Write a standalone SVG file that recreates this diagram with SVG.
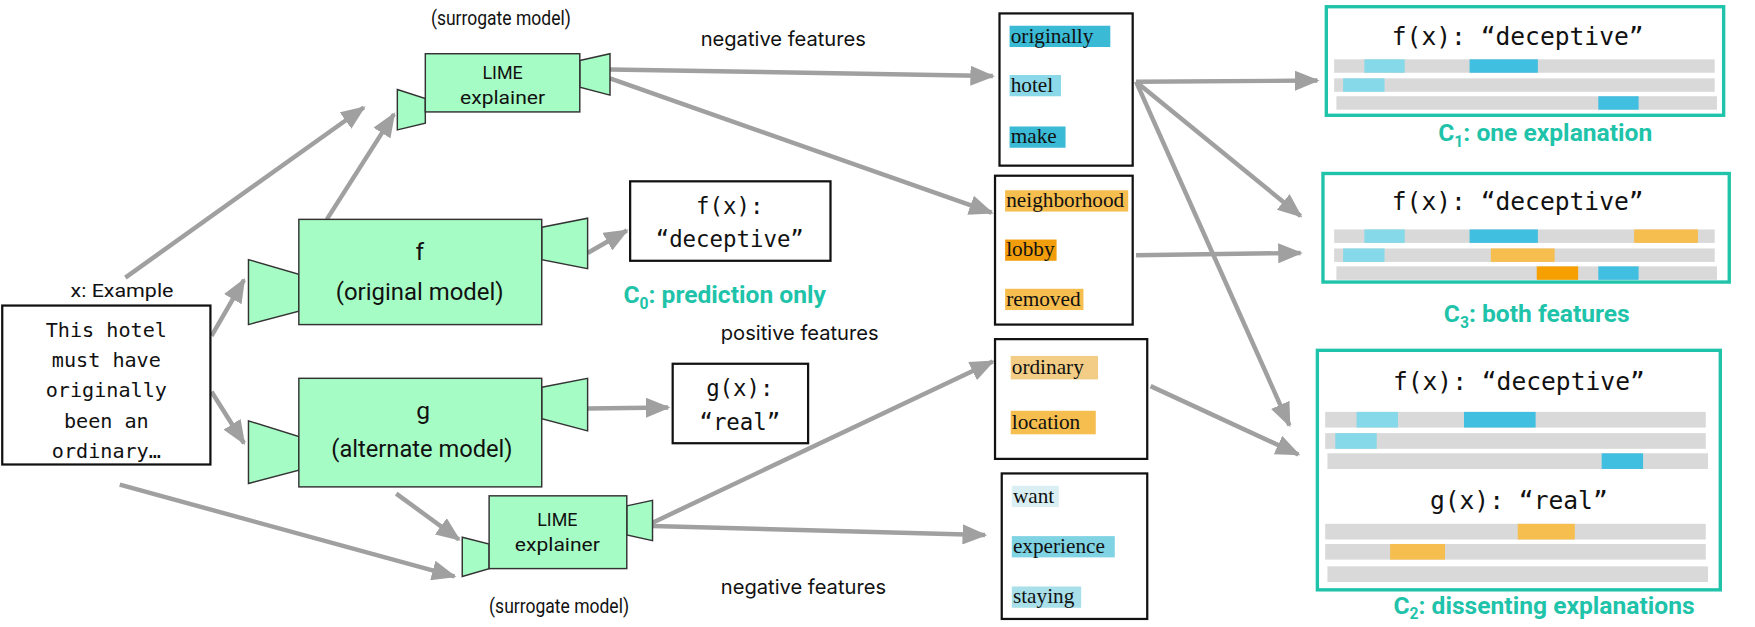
<svg xmlns="http://www.w3.org/2000/svg" width="1755" height="627" viewBox="0 0 1755 627">
<style>
.box{fill:#fff;stroke:#111;stroke-width:2}
.m{fill:#a6fcc5;stroke:#333;stroke-width:1.3}
.lab{font-family:Roboto,"Liberation Sans",sans-serif;fill:#111}
.mono{font-family:"DejaVu Sans Mono","Liberation Mono",monospace;fill:#111}
.ser{font-family:"Liberation Serif",serif;font-size:19px;fill:#111}
.teal{font-family:Roboto,"Liberation Sans",sans-serif;font-weight:bold;fill:#1fc3aa;font-size:22px}
.sub{font-size:14px}
.cbox{fill:#fff;stroke:#1fc3aa;stroke-width:3}
.bar{fill:#d9d9d9}
.lb{fill:#85d9e8}.db{fill:#40bfe0}.or{fill:#f6bd4f}.dor{fill:#f5a000}
.feat{font-family:Inter,"Liberation Sans",sans-serif;font-size:18px;fill:#111}
.c line{stroke:#a0a0a0;stroke-width:4;marker-end:url(#ah)}
</style>
<defs>
<marker id="ah" markerUnits="userSpaceOnUse" markerWidth="22" markerHeight="18" refX="20" refY="9" orient="auto"><path d="M0,0 L22,9 L0,18 Z" fill="#a0a0a0"/></marker>
</defs>
<rect width="1755" height="627" fill="#fff"/>
<g transform="scale(1.11926)">
<g class="c" id="connectors">
<line x1="112" y1="248" x2="325" y2="96"/>
<line x1="292" y1="196" x2="352" y2="102"/>
<line x1="189" y1="300" x2="218" y2="250"/>
<line x1="189" y1="350" x2="218" y2="396"/>
<line x1="107" y1="433" x2="406" y2="515"/>
<line x1="354" y1="441" x2="410" y2="482"/>
<line x1="525" y1="226" x2="560" y2="206"/>
<line x1="525" y1="365" x2="597" y2="364"/>
<line x1="545" y1="62" x2="887" y2="68"/>
<line x1="545" y1="70" x2="886" y2="190"/>
<line x1="583" y1="467" x2="887" y2="323"/>
<line x1="583" y1="470" x2="880" y2="478"/>
<line x1="1015" y1="73" x2="1177" y2="72"/>
<line x1="1015" y1="73" x2="1162" y2="193"/>
<line x1="1015" y1="73" x2="1152" y2="380"/>
<line x1="1015" y1="228" x2="1162" y2="226"/>
<line x1="1028" y1="345" x2="1160" y2="406"/>
</g>
<g id="example">
<text class="lab" x="63" y="265" font-size="17" textLength="92" lengthAdjust="spacingAndGlyphs">x: Example</text>
<rect class="box" x="2" y="273" width="186" height="142"/>
<text class="mono" font-size="18" text-anchor="middle"><tspan x="95" y="301">This hotel</tspan><tspan x="95" y="328">must have</tspan><tspan x="95" y="355">originally</tspan><tspan x="95" y="382">been an</tspan><tspan x="95" y="409">ordinary…</tspan></text>
</g>
<g id="model-f">
<path class="m" d="M222,232 L267,245 L267,278 L222,290 Z"/>
<path class="m" d="M484,203 L525,195 L525,240 L484,232 Z"/>
<rect class="m" x="267" y="196" width="217" height="94"/>
<text class="lab" x="375" y="232" font-size="22" text-anchor="middle">f</text>
<text class="lab" x="300" y="268" font-size="22" textLength="150" lengthAdjust="spacingAndGlyphs">(original model)</text>
</g>
<g id="model-g">
<path class="m" d="M222,376 L267,390 L267,420 L222,432 Z"/>
<path class="m" d="M484,346 L525,338 L525,385 L484,374 Z"/>
<rect class="m" x="267" y="338" width="217" height="97"/>
<text class="lab" x="378" y="374" font-size="22" text-anchor="middle">g</text>
<text class="lab" x="296" y="408" font-size="22" textLength="162" lengthAdjust="spacingAndGlyphs">(alternate model)</text>
</g>
<g id="lime-top">
<text class="lab" x="385" y="22" font-size="18" textLength="125" lengthAdjust="spacingAndGlyphs">(surrogate model)</text>
<path class="m" d="M355,80 L380,88 L380,110 L355,116 Z"/>
<path class="m" d="M518,54 L545,48 L545,85 L518,78 Z"/>
<rect class="m" x="380" y="48" width="138" height="52"/>
<text class="lab" x="449" y="71" font-size="16" text-anchor="middle">LIME</text>
<text class="lab" x="411" y="93" font-size="16" textLength="76" lengthAdjust="spacingAndGlyphs">explainer</text>
</g>
<g id="lime-bottom">
<path class="m" d="M413,480 L437,486 L437,508 L413,515 Z"/>
<path class="m" d="M560,452 L583,447 L583,483 L560,478 Z"/>
<rect class="m" x="437" y="443" width="123" height="65"/>
<text class="lab" x="498" y="470" font-size="16" text-anchor="middle">LIME</text>
<text class="lab" x="460" y="492" font-size="16" textLength="76" lengthAdjust="spacingAndGlyphs">explainer</text>
<text class="lab" x="437" y="548" font-size="18" textLength="125" lengthAdjust="spacingAndGlyphs">(surrogate model)</text>
</g>
<g id="pred-f">
<rect class="box" x="563" y="162" width="179" height="71"/>
<text class="mono" font-size="20" text-anchor="middle"><tspan x="652" y="191">f(x):</tspan><tspan x="652" y="221">“deceptive”</tspan></text>
<text class="teal" x="557" y="271">C<tspan class="sub" dy="5">0</tspan><tspan dy="-5">: prediction only</tspan></text>
</g>
<g id="pred-g">
<rect class="box" x="601" y="325" width="121" height="71"/>
<text class="mono" font-size="20" text-anchor="middle"><tspan x="661" y="354">g(x):</tspan><tspan x="661" y="384">“real”</tspan></text>
</g>
<text class="feat" x="626" y="41">negative features</text>
<text class="feat" x="644" y="304">positive features</text>
<text class="feat" x="644" y="531">negative features</text>
<g id="feat-neg-top">
<rect class="box" x="893" y="12" width="119" height="136"/>
<rect x="902" y="23" width="90" height="19" fill="#3bbad6"/><text class="ser" x="903" y="38">originally</text>
<rect x="902" y="67" width="46" height="19" fill="#8ad8e8"/><text class="ser" x="903" y="82">hotel</text>
<rect x="902" y="113" width="50" height="19" fill="#3bbad6"/><text class="ser" x="903" y="128">make</text>
</g>
<g id="feat-pos-top">
<rect class="box" x="889" y="157" width="123" height="133"/>
<rect x="898" y="170" width="110" height="19" fill="#f6bd4f"/><text class="ser" x="899" y="185">neighborhood</text>
<rect x="898" y="214" width="46" height="19" fill="#f29e0c"/><text class="ser" x="899" y="229">lobby</text>
<rect x="898" y="258" width="70" height="19" fill="#f6bd4f"/><text class="ser" x="899" y="273">removed</text>
</g>
<g id="feat-pos-bottom">
<rect class="box" x="889" y="303" width="136" height="107"/>
<rect x="903" y="318" width="78" height="21" fill="#f3cd85"/><text class="ser" x="904" y="334">ordinary</text>
<rect x="903" y="367" width="76" height="21" fill="#f6bd4f"/><text class="ser" x="904" y="383">location</text>
</g>
<g id="feat-neg-bottom">
<rect class="box" x="895" y="423" width="130" height="130"/>
<rect x="904" y="434" width="42" height="19" fill="#d9eff3"/><text class="ser" x="905" y="449">want</text>
<rect x="904" y="479" width="92" height="19" fill="#7fd3e3"/><text class="ser" x="905" y="494">experience</text>
<rect x="904" y="524" width="62" height="19" fill="#a8dfe9"/><text class="ser" x="905" y="539">staying</text>
</g>
<g id="c1">
<rect class="cbox" x="1185" y="6" width="355" height="97"/>
<text class="mono" x="1356" y="40" font-size="22" text-anchor="middle">f(x): “deceptive”</text>
<rect class="bar" x="1192" y="53" width="340" height="12"/><rect class="lb" x="1219" y="53" width="36" height="12"/><rect class="db" x="1313" y="53" width="61" height="12"/>
<rect class="bar" x="1192" y="70" width="340" height="12"/><rect class="lb" x="1200" y="70" width="37" height="12"/>
<rect class="bar" x="1194" y="86" width="340" height="12"/><rect class="db" x="1428" y="86" width="36" height="12"/>
<text class="teal" x="1285" y="126">C<tspan class="sub" dy="5">1</tspan><tspan dy="-5">: one explanation</tspan></text>
</g>
<g id="c3">
<rect class="cbox" x="1182" y="155" width="363" height="97"/>
<text class="mono" x="1356" y="188" font-size="22" text-anchor="middle">f(x): “deceptive”</text>
<rect class="bar" x="1192" y="205" width="340" height="12"/><rect class="lb" x="1219" y="205" width="36" height="12"/><rect class="db" x="1313" y="205" width="61" height="12"/><rect class="or" x="1460" y="205" width="57" height="12"/>
<rect class="bar" x="1192" y="222" width="340" height="12"/><rect class="lb" x="1200" y="222" width="37" height="12"/><rect class="or" x="1332" y="222" width="57" height="12"/>
<rect class="bar" x="1194" y="238" width="340" height="12"/><rect class="dor" x="1373" y="238" width="37" height="12"/><rect class="db" x="1428" y="238" width="36" height="12"/>
<text class="teal" x="1290" y="288">C<tspan class="sub" dy="5">3</tspan><tspan dy="-5">: both features</tspan></text>
</g>
<g id="c2">
<rect class="cbox" x="1177" y="313" width="360" height="214"/>
<text class="mono" x="1357" y="348" font-size="22" text-anchor="middle">f(x): “deceptive”</text>
<rect class="bar" x="1184" y="368" width="340" height="14"/><rect class="lb" x="1212" y="368" width="37" height="14"/><rect class="db" x="1308" y="368" width="64" height="14"/>
<rect class="bar" x="1184" y="387" width="340" height="14"/><rect class="lb" x="1193" y="387" width="37" height="14"/>
<rect class="bar" x="1186" y="405" width="340" height="14"/><rect class="db" x="1431" y="405" width="37" height="14"/>
<text class="mono" x="1357" y="455" font-size="22" text-anchor="middle">g(x): “real”</text>
<rect class="bar" x="1184" y="468" width="340" height="14"/><rect class="or" x="1356" y="468" width="51" height="14"/>
<rect class="bar" x="1184" y="486" width="340" height="14"/><rect class="or" x="1242" y="486" width="49" height="14"/>
<rect class="bar" x="1186" y="506" width="340" height="14"/>
<text class="teal" x="1245" y="549">C<tspan class="sub" dy="4">2</tspan><tspan dy="-4">: dissenting explanations</tspan></text>
</g>
</g>
</svg>
